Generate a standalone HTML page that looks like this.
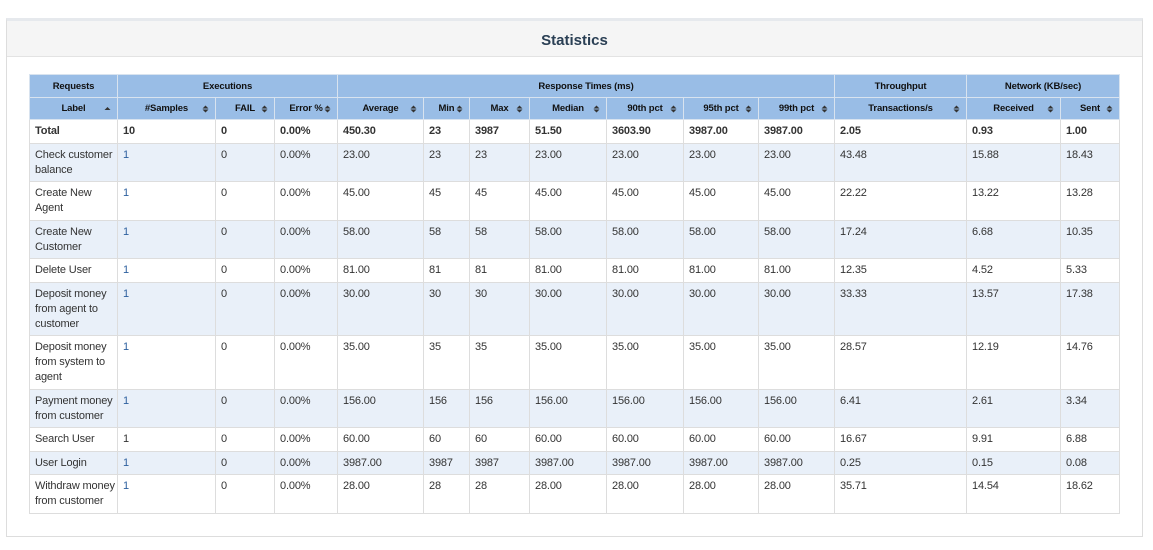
<!DOCTYPE html>
<html><head><meta charset="utf-8"><style>
body{margin:0;background:#fff;font-family:"Liberation Sans",Arial,sans-serif;width:1153px;height:550px;overflow:hidden;position:relative}
.panel{position:absolute;left:6px;top:18px;width:1137px;height:519px;border:1px solid #ddd;border-top:3px solid #e6e9ed;box-sizing:border-box;background:#fff}
.ph{height:35px;background:#f5f5f5;border-bottom:1px solid #e3e3e3;text-align:center;font-weight:bold;font-size:15px;line-height:39px;color:#2a3f54}
table{position:absolute;left:22px;top:53px;border-collapse:collapse;table-layout:fixed;font-size:11px;color:#333}
td,th{border:1px solid #ddd;padding:0 1px 0 5px;vertical-align:top;line-height:15px;letter-spacing:-0.15px}
th{background:#99bde6;font-size:9.5px;color:#111;text-align:center;vertical-align:middle;border-color:#d8e3ef;position:relative;font-weight:bold;padding:0}
tr.h2 th svg{position:absolute;right:6px;top:7px}
td{padding-top:4px}
tr.a td{background:#e9f0f9}
td.l{color:#2c5f9e}
tr.t td{font-weight:bold}
</style></head><body>
<div class="panel"><div class="ph">Statistics</div>
<table>
<colgroup><col style="width:88px"><col style="width:98px"><col style="width:59px"><col style="width:63px"><col style="width:86px"><col style="width:46px"><col style="width:60px"><col style="width:77px"><col style="width:77px"><col style="width:75px"><col style="width:76px"><col style="width:132px"><col style="width:94px"><col style="width:59px"></colgroup>
<tr style="height:23px"><th>Requests</th><th colspan="3">Executions</th><th colspan="7">Response Times (ms)</th><th>Throughput</th><th colspan="2">Network (KB/sec)</th></tr>
<tr class="h2" style="height:22px"><th>Label<svg width="7" height="8"><path d="M0.5 5 L3.5 2 L6.5 5Z" fill="#333"/></svg></th><th>#Samples<svg width="7" height="8"><path d="M0.5 3.5 L3.5 0.5 L6.5 3.5Z M0.5 4.5 L3.5 7.5 L6.5 4.5Z" fill="#333"/></svg></th><th>FAIL<svg width="7" height="8"><path d="M0.5 3.5 L3.5 0.5 L6.5 3.5Z M0.5 4.5 L3.5 7.5 L6.5 4.5Z" fill="#333"/></svg></th><th>Error %<svg width="7" height="8"><path d="M0.5 3.5 L3.5 0.5 L6.5 3.5Z M0.5 4.5 L3.5 7.5 L6.5 4.5Z" fill="#333"/></svg></th><th>Average<svg width="7" height="8"><path d="M0.5 3.5 L3.5 0.5 L6.5 3.5Z M0.5 4.5 L3.5 7.5 L6.5 4.5Z" fill="#333"/></svg></th><th>Min<svg width="7" height="8"><path d="M0.5 3.5 L3.5 0.5 L6.5 3.5Z M0.5 4.5 L3.5 7.5 L6.5 4.5Z" fill="#333"/></svg></th><th>Max<svg width="7" height="8"><path d="M0.5 3.5 L3.5 0.5 L6.5 3.5Z M0.5 4.5 L3.5 7.5 L6.5 4.5Z" fill="#333"/></svg></th><th>Median<svg width="7" height="8"><path d="M0.5 3.5 L3.5 0.5 L6.5 3.5Z M0.5 4.5 L3.5 7.5 L6.5 4.5Z" fill="#333"/></svg></th><th>90th pct<svg width="7" height="8"><path d="M0.5 3.5 L3.5 0.5 L6.5 3.5Z M0.5 4.5 L3.5 7.5 L6.5 4.5Z" fill="#333"/></svg></th><th>95th pct<svg width="7" height="8"><path d="M0.5 3.5 L3.5 0.5 L6.5 3.5Z M0.5 4.5 L3.5 7.5 L6.5 4.5Z" fill="#333"/></svg></th><th>99th pct<svg width="7" height="8"><path d="M0.5 3.5 L3.5 0.5 L6.5 3.5Z M0.5 4.5 L3.5 7.5 L6.5 4.5Z" fill="#333"/></svg></th><th>Transactions/s<svg width="7" height="8"><path d="M0.5 3.5 L3.5 0.5 L6.5 3.5Z M0.5 4.5 L3.5 7.5 L6.5 4.5Z" fill="#333"/></svg></th><th>Received<svg width="7" height="8"><path d="M0.5 3.5 L3.5 0.5 L6.5 3.5Z M0.5 4.5 L3.5 7.5 L6.5 4.5Z" fill="#333"/></svg></th><th>Sent<svg width="7" height="8"><path d="M0.5 3.5 L3.5 0.5 L6.5 3.5Z M0.5 4.5 L3.5 7.5 L6.5 4.5Z" fill="#333"/></svg></th></tr>
<tr class="t" style="height:24px"><td>Total</td><td>10</td><td>0</td><td>0.00%</td><td>450.30</td><td>23</td><td>3987</td><td>51.50</td><td>3603.90</td><td>3987.00</td><td>3987.00</td><td>2.05</td><td>0.93</td><td>1.00</td></tr>
<tr class="a" style="height:38px"><td>Check customer balance</td><td class="l">1</td><td>0</td><td>0.00%</td><td>23.00</td><td>23</td><td>23</td><td>23.00</td><td>23.00</td><td>23.00</td><td>23.00</td><td>43.48</td><td>15.88</td><td>18.43</td></tr>
<tr style="height:39px"><td>Create New Agent</td><td class="l">1</td><td>0</td><td>0.00%</td><td>45.00</td><td>45</td><td>45</td><td>45.00</td><td>45.00</td><td>45.00</td><td>45.00</td><td>22.22</td><td>13.22</td><td>13.28</td></tr>
<tr class="a" style="height:38px"><td>Create New Customer</td><td class="l">1</td><td>0</td><td>0.00%</td><td>58.00</td><td>58</td><td>58</td><td>58.00</td><td>58.00</td><td>58.00</td><td>58.00</td><td>17.24</td><td>6.68</td><td>10.35</td></tr>
<tr style="height:24px"><td>Delete User</td><td class="l">1</td><td>0</td><td>0.00%</td><td>81.00</td><td>81</td><td>81</td><td>81.00</td><td>81.00</td><td>81.00</td><td>81.00</td><td>12.35</td><td>4.52</td><td>5.33</td></tr>
<tr class="a" style="height:53px"><td>Deposit money from agent to customer</td><td class="l">1</td><td>0</td><td>0.00%</td><td>30.00</td><td>30</td><td>30</td><td>30.00</td><td>30.00</td><td>30.00</td><td>30.00</td><td>33.33</td><td>13.57</td><td>17.38</td></tr>
<tr style="height:54px"><td>Deposit money from system to agent</td><td class="l">1</td><td>0</td><td>0.00%</td><td>35.00</td><td>35</td><td>35</td><td>35.00</td><td>35.00</td><td>35.00</td><td>35.00</td><td>28.57</td><td>12.19</td><td>14.76</td></tr>
<tr class="a" style="height:38px"><td>Payment money from customer</td><td class="l">1</td><td>0</td><td>0.00%</td><td>156.00</td><td>156</td><td>156</td><td>156.00</td><td>156.00</td><td>156.00</td><td>156.00</td><td>6.41</td><td>2.61</td><td>3.34</td></tr>
<tr style="height:24px"><td>Search User</td><td>1</td><td>0</td><td>0.00%</td><td>60.00</td><td>60</td><td>60</td><td>60.00</td><td>60.00</td><td>60.00</td><td>60.00</td><td>16.67</td><td>9.91</td><td>6.88</td></tr>
<tr class="a" style="height:23px"><td>User Login</td><td class="l">1</td><td>0</td><td>0.00%</td><td>3987.00</td><td>3987</td><td>3987</td><td>3987.00</td><td>3987.00</td><td>3987.00</td><td>3987.00</td><td>0.25</td><td>0.15</td><td>0.08</td></tr>
<tr style="height:39px"><td>Withdraw money from customer</td><td class="l">1</td><td>0</td><td>0.00%</td><td>28.00</td><td>28</td><td>28</td><td>28.00</td><td>28.00</td><td>28.00</td><td>28.00</td><td>35.71</td><td>14.54</td><td>18.62</td></tr>
</table></div>
</body></html>
